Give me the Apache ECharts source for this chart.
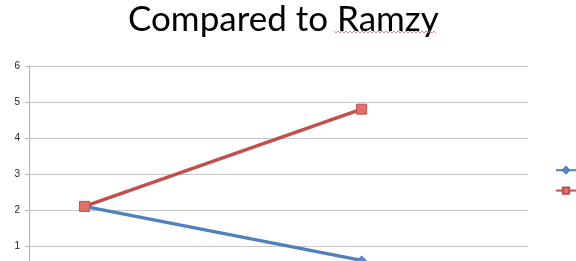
<!DOCTYPE html>
<html>
<head>
<meta charset="utf-8">
<script src="https://cdn.jsdelivr.net/npm/echarts@6/dist/echarts.min.js"></script>
<style>
html,body{margin:0;padding:0;background:#fff;overflow:hidden;}
#c{width:576px;height:300px;}
</style>
</head>
<body>
<div id="c"></div>
<script>
// Category slots along the x axis (only two carry data)
const categories = ['', 'A', '', '', '', '', 'B', '', '', ''];
// Series values (null = no point in that slot)
const blueValues = [null, 2.1, null, null, null, null, 0.6, null, null, null];
const redValues  = [null, 2.1, null, null, null, null, 4.8, null, null, null];
const yTicks = [0, 1, 2, 3, 4, 5, 6];
const titleText = 'Compared to Ramzy';

const chart = echarts.init(document.getElementById('c'), null, {renderer: 'canvas'});

// spellcheck-style squiggle under "Ramzy"
const squiggle = [];
for (let i = 0; i <= 51; i++) squiggle.push([334 + i * 2, 32 + (i % 2 ? 1 : -1)]);

chart.setOption({
  animation: false,
  backgroundColor: '#ffffff',
  title: {
    text: titleText,
    left: 123,
    top: -3,
    textStyle: {fontFamily: 'Lato', fontWeight: 'normal', fontSize: 35, color: '#000'}
  },
  graphic: [{
    type: 'polyline',
    shape: {points: squiggle},
    style: {stroke: '#e07070', lineWidth: 0.8, fill: null},
    z: 10
  }],
  legend: {
    orient: 'vertical',
    left: 550,
    top: 161,
    itemWidth: 20,
    itemHeight: 8,
    itemGap: 12,
    formatter: () => '',
    data: ['s1', 's2']
  },
  grid: {left: 29, top: 66, width: 499, height: 216},
  xAxis: {
    type: 'category',
    data: categories,
    boundaryGap: false,
    axisLine: {show: false},
    axisTick: {show: false},
    axisLabel: {show: false},
    splitLine: {show: false}
  },
  yAxis: {
    type: 'value',
    min: yTicks[0],
    max: yTicks[yTicks.length - 1],
    interval: 1,
    axisLine: {show: true, lineStyle: {color: '#b4b4b4', width: 1}},
    axisTick: {show: true, length: 4, lineStyle: {color: '#b4b4b4'}},
    axisLabel: {margin: 9, fontSize: 10, color: '#222', fontFamily: 'Liberation Sans',
      formatter: v => (v === 0 ? '' : String(v))},
    splitLine: {show: true, lineStyle: {color: '#c8c8c8', width: 1}}
  },
  series: [
    {
      name: 's1', type: 'line', data: blueValues, connectNulls: true,
      symbol: 'diamond', symbolSize: 9,
      lineStyle: {color: '#4f81bd', width: 3.5},
      itemStyle: {color: '#5b8ccc', borderColor: '#4f81bd', borderWidth: 1}
    },
    {
      name: 's2', type: 'line', data: redValues, connectNulls: true,
      symbol: 'rect', symbolSize: 10,
      lineStyle: {color: '#c0504d', width: 3.5},
      itemStyle: {color: '#e0706c', borderColor: '#c0504d', borderWidth: 1}
    }
  ]
});
</script>
</body>
</html>
